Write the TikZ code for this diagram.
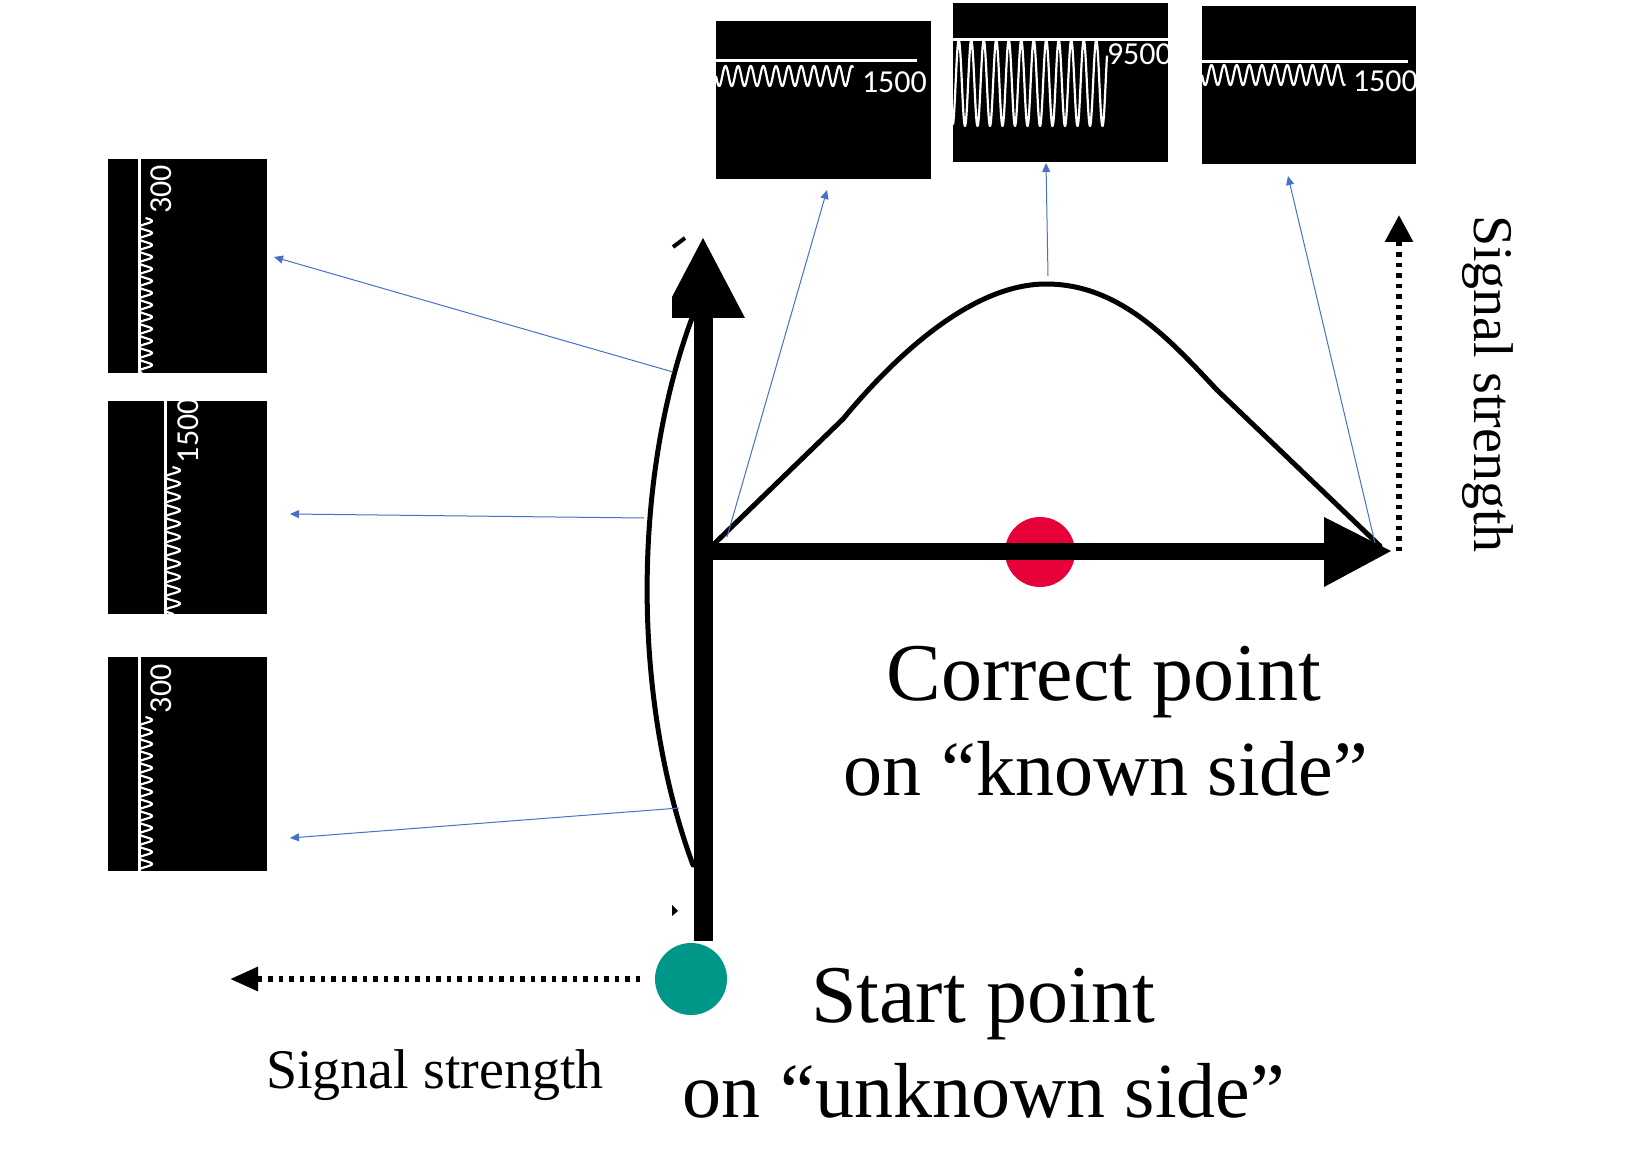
\documentclass[tikz,border=0pt]{standalone}
\usepackage{fontspec}
\setmainfont{Liberation Serif}
\newfontfamily\boxfont{Carlito}
\usetikzlibrary{arrows.meta}
\definecolor{linkblue}{RGB}{68,114,196}
\definecolor{dotred}{RGB}{232,0,56}
\definecolor{dotteal}{RGB}{0,150,136}
\tikzset{
  panel/.style={fill=black, draw=none, inner sep=0pt, outer sep=0pt},
  link/.style={draw=linkblue, line width=1pt, -{Triangle[length=9pt,width=8pt]}},
  wave/.style={draw=white, line width=2.2pt, line join=round},
  panelrule/.style={draw=white, line width=3pt},
  numlabel/.style={text=white, font=\boxfont\fontsize{32}{38}\selectfont, inner sep=0pt, outer sep=0pt},
  bigfirst/.style={font=\fontsize{82}{96}\selectfont, inner sep=0pt, anchor=base},
  bigsecond/.style={font=\fontsize{78}{96}\selectfont, inner sep=0pt, anchor=base},
  axislabel/.style={font=\fontsize{56}{66}\selectfont, inner sep=0pt, anchor=base},
  dotline/.style={line width=6pt, dash pattern=on 4.5pt off 6pt},
  thick curve/.style={line width=5pt, line join=round, line cap=round},
}
\begin{document}
\begin{tikzpicture}[x=1pt,y=-1pt]
\useasboundingbox (0,0) rectangle (1652,1158);
\fill[white] (0,0) rectangle (1652,1158);

% ---------- panels ----------
\node[panel, minimum width=215pt, minimum height=158pt] (t1) at (823.5,100) {};
\node[panel, minimum width=215pt, minimum height=159pt] (t2) at (1060.5,82.5) {};
\node[panel, minimum width=214pt, minimum height=158pt] (t3) at (1309,85) {};
\node[panel, minimum width=159pt, minimum height=214pt] (l1) at (187.5,266) {};
\node[panel, minimum width=159pt, minimum height=213pt] (l2) at (187.5,507.5) {};
\node[panel, minimum width=159pt, minimum height=214pt] (l3) at (187.5,764) {};

\begin{scope}
  \clip (t1.south west) rectangle (t1.north east);
  \draw[panelrule] (716,61) -- (917,61);
  \draw[wave] plot[domain=716:853, samples=300] (\x,{76+10*sin((\x-716)*28.5)});
  \node[numlabel, anchor=base west] (t1n) at (862,93) {1500};
\end{scope}
\begin{scope}
  \clip (t2.south west) rectangle (t2.north east);
  \draw[panelrule] (953,40) -- (1168,40);
  \draw[wave] plot[domain=953:1107, samples=400] (\x,{83+43*cos((\x-965)*28.8)});
  \node[numlabel, anchor=base west] (t2n) at (1107,65) {9500};
\end{scope}
\begin{scope}
  \clip (t3.south west) rectangle (t3.north east);
  \draw[panelrule] (1202,62) -- (1408,62);
  \draw[wave] plot[domain=1202:1345, samples=300] (\x,{75+10*sin((\x-1202)*28.5)});
  \node[numlabel, anchor=base west] (t3n) at (1353,92) {1500};
\end{scope}
\begin{scope}
  \clip (l1.south west) rectangle (l1.north east);
  \draw[panelrule] (139,159) -- (139,373);
  \draw[wave] plot[domain=218:373, samples=300] ({145.5+6.5*sin((\x-218)*30)},\x);
  \node[numlabel, rotate=90, anchor=base west] (l1n) at (171,214) {300};
\end{scope}
\begin{scope}
  \clip (l2.south west) rectangle (l2.north east);
  \draw[panelrule] (165,401) -- (165,614);
  \draw[wave] plot[domain=467:614, samples=300] ({172.5+7.5*sin((\x-467)*27)},\x);
  \node[numlabel, rotate=90, anchor=base west] (l2n) at (198,463) {1500};
\end{scope}
\begin{scope}
  \clip (l3.south west) rectangle (l3.north east);
  \draw[panelrule] (139,657) -- (139,871);
  \draw[wave] plot[domain=717:871, samples=300] ({145.5+6.5*sin((\x-717)*30)},\x);
  \node[numlabel, rotate=90, anchor=base west] (l3n) at (171,713) {300};
\end{scope}

% ---------- curves ----------
\draw[thick curve] (692,318) .. controls (632,480) and (632,700) .. (693,865);
\draw[thick curve] (713,545) -- (843,419) .. controls (900,350) and (975,284) .. (1046,284)
      .. controls (1120,284) and (1170,340) .. (1217,390) -- (1380,546);

% ---------- dots ----------
\node[circle, fill=dotred, minimum size=70pt, inner sep=0pt] (correct) at (1040,552) {};
\node[circle, fill=dotteal, minimum size=72pt, inner sep=0pt] (start) at (691,979) {};

% ---------- axes ----------
\fill (694,318) rectangle (713,941);
\fill (703,238) -- (745,318) -- (672,318) -- (672,297) -- cycle;
\fill (713,543) rectangle (1324,560);
\fill (1324,517) -- (1391,551) -- (1324,587) -- cycle;
\draw[line width=4pt] (673,247) -- (685,238);
\fill (672,905) -- (678,911) -- (672,916) -- cycle;

% ---------- dotted signal arrows ----------
\coordinate (sigbase) at (1399,551);
\coordinate (sigtop) at (1399,215);
\coordinate (sigfrom) at (640,979);
\coordinate (sigleft) at (230,979);
\draw[dotline, -{Triangle[length=27pt,width=27pt]}] (sigbase) -- (sigtop);
\draw[dotline, -{Triangle[length=28pt,width=23pt]}] (sigfrom) -- (sigleft);

% ---------- blue links ----------
\coordinate (a1) at (673,372);  \coordinate (b1) at (274,257);
\coordinate (a2) at (644,518);  \coordinate (b2) at (290,514);
\coordinate (a3) at (679,808);  \coordinate (b3) at (290,838);
\coordinate (a4) at (727,537);  \coordinate (b4) at (827,190);
\coordinate (a5) at (1048,276); \coordinate (b5) at (1046,163);
\coordinate (a6) at (1375,543); \coordinate (b6) at (1288,176);
\draw[link] (a1) -- (b1);
\draw[link] (a2) -- (b2);
\draw[link] (a3) -- (b3);
\draw[link] (a4) -- (b4);
\draw[link] (a5) -- (b5);
\draw[link] (a6) -- (b6);

% ---------- texts ----------
\node[bigfirst] (correct1) at (1104,700) {Correct point};
\node[bigsecond] (correct2) at (1106,795) {on “known side”};
\node[bigfirst] (start1) at (983,1022) {Start point};
\node[bigsecond] (start2) at (984,1117) {on “unknown side”};
\node[axislabel] (sigb) at (435,1088) {Signal strength};
\node[axislabel, rotate=-90] (sigr) at (1474,384) {Signal strength};
\end{tikzpicture}
\end{document}
